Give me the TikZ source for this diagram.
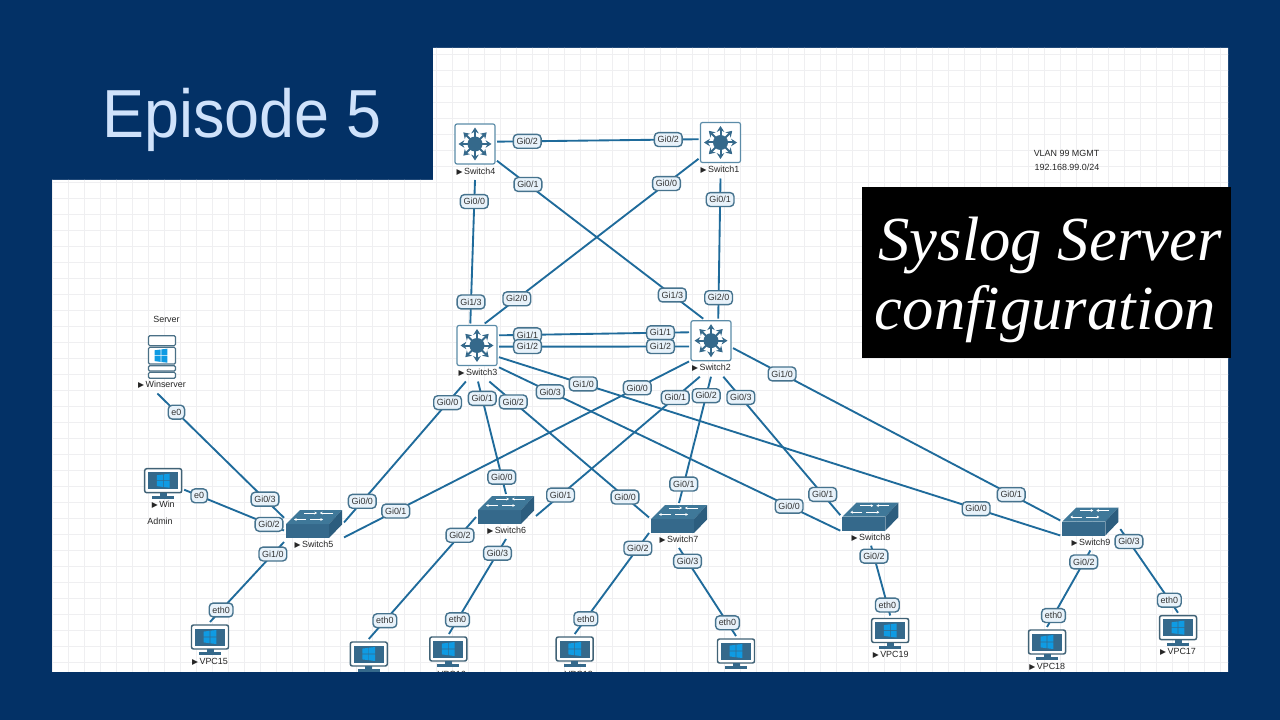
\documentclass[tikz,border=0pt]{standalone}
\usepackage{fontspec}
\setmainfont{Liberation Sans}
\newfontfamily\symb{DejaVu Sans}
\newfontfamily\titlefont[FakeStretch=0.925]{Liberation Sans}
\newfontfamily\boxfont[Scale=1]{Liberation Serif}
\usetikzlibrary{arrows.meta}
\definecolor{navy}{HTML}{033166}
\definecolor{linkblue}{HTML}{1F6B9B}
\definecolor{icondark}{HTML}{35698B}
\definecolor{icontop}{HTML}{3F7899}
\definecolor{iconside}{HTML}{2C5D7E}
\definecolor{iconedge}{HTML}{5C8CA8}
\definecolor{portedge}{HTML}{46738E}
\definecolor{portfill}{HTML}{E8F2FA}
\definecolor{logoblue}{HTML}{0F9BE3}
\definecolor{gridgray}{HTML}{EFEFF1}
\definecolor{episode}{HTML}{CFE2FB}
\newcommand{\play}{{\symb\fontsize{5.8}{6}\selectfont\char"25B6}\,}
\tikzset{
    link/.style={draw=linkblue,line width=1.4pt},
    port/.style={draw=portedge,fill=portfill,line width=1.05pt,rounded corners=3pt,inner sep=0pt,
        inner xsep=2.4pt,minimum height=10.4pt,font=\fontsize{6.7}{7}\selectfont,text=black!80},
    pa/.style={port,pos=.15},
    pb/.style={port,pos=.85},
    devlabel/.style={inner sep=0pt,font=\fontsize{6.7}{7}\selectfont,text=black!85},
    note/.style={inner sep=0pt,font=\fontsize{6.7}{7}\selectfont,text=black!85},
    corebox/.style={inner sep=0pt,outer sep=0pt,minimum width=33pt,minimum height=43.5pt},
    accessbox/.style={inner sep=0pt,outer sep=0pt,minimum width=45pt,minimum height=33.75pt},
    pcbox/.style={inner sep=0pt,outer sep=0pt,minimum width=31.5pt,minimum height=27pt},
    serverbox/.style={inner sep=0pt,outer sep=0pt,minimum width=22.5pt,minimum height=43.5pt},
    pics/winlogo/.style={code={
        \fill[logoblue] (-6.4,-5.4) -- (-0.3,-6.2) -- (-0.3,-0.3) -- (-6.4,-0.3) -- cycle;
        \fill[logoblue] (0.3,-6.3) -- (6.4,-7) -- (6.4,-0.3) -- (0.3,-0.3) -- cycle;
        \fill[logoblue] (-6.4,0.3) -- (-0.3,0.3) -- (-0.3,6.2) -- (-6.4,5.4) -- cycle;
        \fill[logoblue] (0.3,0.3) -- (6.4,0.3) -- (6.4,7) -- (0.3,6.3) -- cycle;
    }},
    pics/coreicon/.style={code={
        \draw[draw=iconedge,fill=white,line width=0.9pt,rounded corners=1.5pt] (-20,-27) rectangle (20,13);
        \fill[icondark] (0,-7) circle[radius=7.5];
        \foreach \a in {0,45,...,315}
            \draw[icondark,line width=1.5pt,-{Stealth[length=4.4pt,width=5.6pt]}] ([shift={(0,-7)}]\a:5) -- ([shift={(0,-7)}]\a:16.5);
    }},
    pics/accessicon/.style={code={
        \fill[icondark] (-28,-6.5) rectangle (15,7.5);
        \fill[icontop] (-28,-6.5) -- (-14,-20.5) -- (28,-20.5) -- (15,-6.5) -- cycle;
        \fill[iconside] (15,-6.5) -- (28,-20.5) -- (28,-6) -- (15,7.5) -- cycle;
        \draw[white,line width=0.7pt,-{Stealth[length=2pt,width=2.2pt]}] (-10,-17.5) -- (3,-17.5);
        \draw[white,line width=0.7pt,-{Stealth[length=2pt,width=2.2pt]}] (19,-17.5) -- (6,-17.5);
        \draw[white,line width=0.7pt,-{Stealth[length=2pt,width=2.2pt]}] (-8,-11) -- (-20,-11);
        \draw[white,line width=0.7pt,-{Stealth[length=2pt,width=2.2pt]}] (-4,-11) -- (9,-11);
    }},
    pics/pcicon/.style={code={
        \draw[draw=iconedge!70!black,fill=white,line width=1.1pt,rounded corners=1.5pt] (-18.5,-15) rectangle (18.5,9);
        \fill[icondark] (-15,-11.5) rectangle (15,5.5);
        \pic at (0,-3) {winlogo};
        \fill[icondark] (-3.5,9) rectangle (3.5,12.5);
        \fill[icondark] (-11,12) rectangle (11,15) ;
    }},
    pics/servericon/.style={code={
        \draw[draw=iconedge!80!black,fill=white,line width=0.9pt,rounded corners=1pt] (-13.5,-28.8) rectangle (13.5,-18.8);
        \draw[draw=iconedge!80!black,fill=white,line width=0.9pt,rounded corners=1pt] (-13.5,-17.2) rectangle (13.5,-0.5);
        \draw[draw=iconedge!80!black,fill=white,line width=0.9pt,rounded corners=1pt] (-13.5,1.2) rectangle (13.5,6.5);
        \draw[draw=iconedge!80!black,fill=white,line width=0.9pt,rounded corners=1pt] (-13.5,7.8) rectangle (13.5,13.8);
        \pic at (-1,-8.8) {winlogo};
    }},
}
\begin{document}
\begin{tikzpicture}[x=0.75pt,y=-0.75pt]
    \useasboundingbox (0,0) rectangle (1280,720);
    \fill[navy] (0,0) rectangle (1280,720);
    \fill[white] (433,48) -- (1228,48) -- (1228,672) -- (52,672) -- (52,180) -- (433,180) -- cycle;
    \begin{scope}
        \clip (433,48) -- (1228,48) -- (1228,672) -- (52,672) -- (52,180) -- (433,180) -- cycle;
        \draw[gridgray,line width=0.5pt,step=12pt,shift={(4,6)}] (32,26) grid (1240,680);
    \end{scope}

    \node[corebox] (sw4) at (475,151) {};
    \pic at (sw4) {coreicon};
    \node[devlabel] (sw4t) at (476,172) {\play Switch4};
    \node[corebox] (sw1) at (720.5,149.5) {};
    \pic at (sw1) {coreicon};
    \node[devlabel] (sw1t) at (720,169.5) {\play Switch1};
    \node[corebox] (sw3) at (477,352.5) {};
    \pic at (sw3) {coreicon};
    \node[devlabel] (sw3t) at (478,372.7) {\play Switch3};
    \node[corebox] (sw2) at (711,347.7) {};
    \pic at (sw2) {coreicon};
    \node[devlabel] (sw2t) at (711.5,368) {\play Switch2};

    \node[accessbox] (sw5) at (314,530.5) {};
    \pic at (sw5) {accessicon};
    \node[devlabel] (sw5t) at (314,545) {\play Switch5};
    \node[accessbox] (sw6) at (506,516.5) {};
    \pic at (sw6) {accessicon};
    \node[devlabel] (sw6t) at (506.7,530.7) {\play Switch6};
    \node[accessbox] (sw7) at (679,525.5) {};
    \pic at (sw7) {accessicon};
    \node[devlabel] (sw7t) at (679,540) {\play Switch7};
    \node[accessbox] (sw8) at (870.3,523.2) {};
    \pic at (sw8) {accessicon};
    \node[devlabel] (sw8t) at (871,537.7) {\play Switch8};
    \node[accessbox] (sw9) at (1090.3,528) {};
    \pic at (sw9) {accessicon};
    \node[devlabel] (sw9t) at (1091,542.3) {\play Switch9};

    \node[serverbox] (wsrv) at (162,364.5) {};
    \pic at (wsrv) {servericon};
    \node[devlabel] (wsrvt) at (162,385) {\play Winserver};
    \node[note] (srvnote) at (166.5,319) {Server};
    \node[pcbox] (win) at (163.2,483.7) {};
    \pic at (win) {pcicon};
    \node[devlabel] (wint) at (163.3,505) {\play Win};
    \node[note] (adminnote) at (160,521) {Admin};

    \node[pcbox] (vpc15) at (210,640) {};
    \pic at (vpc15) {pcicon};
    \node[devlabel] (vpc15t) at (210,661.7) {\play VPC15};
    \node[pcbox] (pcl) at (368.8,657) {};
    \pic at (pcl) {pcicon};
    \node[pcbox] (vpc16) at (448.3,652) {};
    \pic at (vpc16) {pcicon};
    \node[devlabel] (vpc16t) at (448,675) {\play VPC16};
    \node[pcbox] (vpc13) at (574.7,652) {};
    \pic at (vpc13) {pcicon};
    \node[devlabel] (vpc13t) at (575,675) {\play VPC13};
    \node[pcbox] (pcr) at (736,654) {};
    \pic at (pcr) {pcicon};
    \node[pcbox] (vpc19) at (890.2,633.5) {};
    \pic at (vpc19) {pcicon};
    \node[devlabel] (vpc19t) at (890.7,654.7) {\play VPC19};
    \node[pcbox] (vpc18) at (1047,645) {};
    \pic at (vpc18) {pcicon};
    \node[devlabel] (vpc18t) at (1047.3,666.7) {\play VPC18};
    \node[pcbox] (vpc17) at (1178,630.7) {};
    \pic at (vpc17) {pcicon};
    \node[devlabel] (vpc17t) at (1178,652) {\play VPC17};

    \draw[link] (sw4.23) -- node[pa] (l1a) {Gi0/2} node[pb] (l1b) {Gi0/2} (sw1.155);
    \draw[link] (sw4.-24) -- node[pa] (l2a) {Gi0/1} node[pb] (l2b) {Gi1/3} (sw2.105.6);
    \draw[link] (sw4.-90) -- node[pa] (l3a) {Gi0/0} node[pb] (l3b) {Gi1/3} (sw3.103);
    \draw[link] (sw1.203) -- node[pa] (l4a) {Gi0/0} node[pb] (l4b) {Gi2/0} (sw3.75);
    \draw[link] (sw1.-90) -- node[pa] (l5a) {Gi0/1} node[pb] (l5b) {Gi2/0} (sw2.76);
    \draw[link] (sw3.38.4) -- node[pa] (l6a) {Gi1/1} node[pb] (l6b) {Gi1/1} (sw2.145.4);
    \draw[link] (sw3.15.8) -- node[pa] (l7a) {Gi1/2} node[pb] (l7b) {Gi1/2} (sw2.177.4);
    \draw[link] (sw3.-12.7) -- node[pa] (l8a) {Gi1/0} node[pb] (l8b) {Gi0/0} (sw9.194.7);
    \draw[link] (sw3.-34.5) -- node[pa] (l9a) {Gi0/3} node[pb] (l9b) {Gi0/0} (sw8.194.4);
    \draw[link] (sw3.249) -- node[pa] (l10a) {Gi0/0} node[pb] (l10b) {Gi0/0} (sw5.15.6);
    \draw[link] (sw3.-88.6) -- node[pa] (l11a) {Gi0/1} node[pb] (l11b) {Gi0/0} (sw6.90);
    \draw[link] (sw3.-67) -- node[pa] (l12a) {Gi0/2} node[pb] (l12b) {Gi0/0} (sw7.165.3);
    \draw[link] (sw2.212.8) -- node[pa] (l13a) {Gi0/0} node[pb] (l13b) {Gi0/1} (sw5.-13.5);
    \draw[link] (sw2.-111.2) -- node[pa] (l14a) {Gi0/1} node[pb] (l14b) {Gi0/1} (sw6.1.5);
    \draw[link] (sw2.-90.6) -- node[pa] (l15a) {Gi0/2} node[pb] (l15b) {Gi0/1} (sw7.90);
    \draw[link] (sw2.-67.5) -- node[pa] (l16a) {Gi0/3} node[pb] (l16b) {Gi0/1} (sw8.165.6);
    \draw[link] (sw2.-1.5) -- node[pa] (l17a) {Gi1/0} node[pb] (l17b) {Gi0/1} (sw9.166.5);
    \draw[link] (wsrv.-99.3) -- node[pa] (l18a) {e0} node[pb] (l18b) {Gi0/3} (sw5.157.7);
    \draw[link] (win.-16.6) -- node[pa] (l19a) {e0} node[pb] (l19b) {Gi0/2} (sw5.180);
    \draw[link] (sw5.201.7) -- node[pa] (l20a) {Gi1/0} node[pb] (l20b) {eth0} (vpc15.90);
    \draw[link] (sw6.181.5) -- node[pa] (l21a) {Gi0/2} node[pb] (l21b) {eth0} (pcl.90);
    \draw[link] (sw6.-90) -- node[pa] (l22a) {Gi0/3} node[pb] (l22b) {eth0} (vpc16.88);
    \draw[link] (sw7.194.7) -- node[pa] (l23a) {Gi0/2} node[pb] (l23b) {eth0} (vpc13.90);
    \draw[link] (sw7.-90) -- node[pa] (l24a) {Gi0/3} node[pb] (l24b) {eth0} (pcr.90);
    \draw[link] (sw8.-88) -- node[pa] (l25a) {Gi0/2} node[pb] (l25b) {eth0} (vpc19.90);
    \draw[link] (sw9.-90) -- node[pa] (l26a) {Gi0/2} node[pb] (l26b) {eth0} (vpc18.90);
    \draw[link] (sw9.-2) -- node[pa] (l27a) {Gi0/3} node[pb] (l27b) {eth0} (vpc17.90);

    \node[note] (vlan) at (1066.5,153.5) {VLAN 99 MGMT};
    \node[note] (subnet) at (1067,167) {192.168.99.0/24};

    \fill[navy] (0,672) rectangle (1280,720);
    \node[inner sep=0pt,anchor=base,text=episode,font=\titlefont\fontsize{51}{51}\selectfont] (episode) at (242,137.5) {Episode 5};
    \node[fill=black,inner sep=0pt,minimum width=276.75pt,minimum height=127.9pt] (titlebox) at (1046.5,272.7) {};
    \node[inner sep=0pt,anchor=base,text=white,font=\boxfont\itshape\fontsize{47}{47}\selectfont] (title1) at (1050,260) {Syslog Server};
    \node[inner sep=0pt,anchor=base,text=white,font=\boxfont\itshape\fontsize{47}{47}\selectfont] (title2) at (1045.5,329) {configuration};
\end{tikzpicture}
\end{document}
